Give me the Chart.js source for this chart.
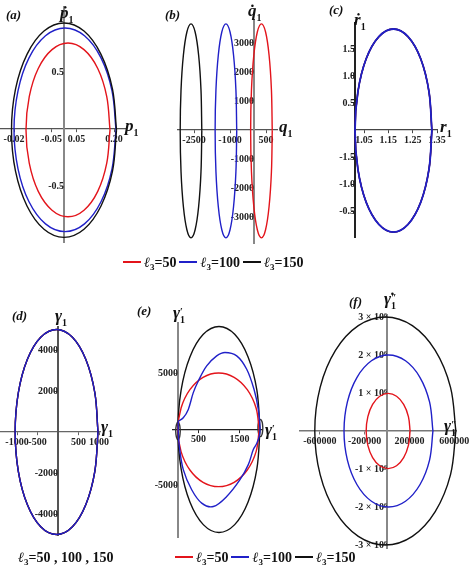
<!DOCTYPE html>
<html>
<head>
<meta charset="utf-8">
<script src="https://cdn.jsdelivr.net/npm/chart.js@4.4.1/dist/chart.umd.min.js"></script>
<style>
body { margin: 0; background: #fff; width: 474px; height: 566px; position: relative; overflow: hidden; font-family: 'Liberation Serif', serif; }
canvas { position: absolute; }
.t { position: absolute; font-weight: bold; color: #111; white-space: nowrap; line-height: 1; }
.pl { font-style: italic; font-size: 13px; }
.ax { font-style: italic; font-size: 17px; }
.ss { display: inline-block; vertical-align: -5px; font-size: 10px; line-height: 0.85; font-style: normal; }
.lg { position: absolute; font-weight: bold; font-size: 14px; white-space: nowrap; line-height: 1; color: #111; }
.lg sub, .t sub { font-size: 9px; vertical-align: -3px; }
.ln { display: inline-block; width: 18px; height: 2px; vertical-align: 4px; margin: 0 3px; }
</style>
</head>
<body>
<canvas id="pa"></canvas>
<canvas id="pb"></canvas>
<canvas id="pc"></canvas>
<canvas id="pd"></canvas>
<canvas id="pe"></canvas>
<canvas id="pf"></canvas>

<div class="t pl" style="left:6px;top:8px">(a)</div>
<div class="t pl" style="left:165px;top:8px">(b)</div>
<div class="t pl" style="left:329px;top:3px">(c)</div>
<div class="t pl" style="left:12px;top:309px">(d)</div>
<div class="t pl" style="left:137px;top:304px">(e)</div>
<div class="t pl" style="left:349px;top:295px">(f)</div>

<div class="t ax" style="left:60px;top:4px">p&#775;<span class="ss">&nbsp;<br>1</span></div>
<div class="t ax" style="left:125px;top:117px">p<span class="ss">&nbsp;<br>1</span></div>
<div class="t ax" style="left:248px;top:2px">q&#775;<span class="ss">&nbsp;<br>1</span></div>
<div class="t ax" style="left:279px;top:118px">q<span class="ss">&nbsp;<br>1</span></div>
<div class="t ax" style="left:354px;top:11px">r&#775;<span class="ss">&nbsp;<br>1</span></div>
<div class="t ax" style="left:440px;top:118px">r<span class="ss">&nbsp;<br>1</span></div>
<div class="t ax" style="left:55px;top:307px">&gamma;<span class="ss">&nbsp;<br>1</span></div>
<div class="t ax" style="left:101px;top:418px">&gamma;<span class="ss">&nbsp;<br>1</span></div>
<div class="t ax" style="left:173px;top:304px">&gamma;<span class="ss">&prime;<br>1</span></div>
<div class="t ax" style="left:265px;top:421px">&gamma;<span class="ss">&prime;<br>1</span></div>
<div class="t ax" style="left:384px;top:290px">&gamma;&#775;<span class="ss">&Prime;<br>1</span></div>
<div class="t ax" style="left:444px;top:417px">&gamma;<span class="ss">&Prime;<br>1</span></div>

<div class="lg" style="left:120px;top:256px"><span class="ln" style="background:#e3141b"></span><i>ℓ</i><sub>3</sub>=50<span class="ln" style="background:#2020c8"></span><i>ℓ</i><sub>3</sub>=100<span class="ln" style="background:#111"></span><i>ℓ</i><sub>3</sub>=150</div>
<div class="lg" style="left:18px;top:551px"><i>ℓ</i><sub>3</sub>=50 , 100 , 150</div>
<div class="lg" style="left:172px;top:551px"><span class="ln" style="background:#e3141b"></span><i>ℓ</i><sub>3</sub>=50<span class="ln" style="background:#2020c8"></span><i>ℓ</i><sub>3</sub>=100<span class="ln" style="background:#111"></span><i>ℓ</i><sub>3</sub>=150</div>

<script>
const PAD = 20;
const RED = '#e3141b', BLUE = '#2020c8', BLACK = '#111';

// (a) p1 / p1-dot
const aTicksX = [-0.2, -0.05, 0.05, 0.2];
const aLabelsX = ['-0.02', '-0.05', '0.05', '0.20'];
const aTicksY = [-0.5, 0.5];
const aLabelsY = ['-0.5', '0.5'];
const aBlackX = [0.21, 0.194, 0.148, 0.080, 0, -0.080, -0.148, -0.194, -0.21, -0.194, -0.148, -0.080, 0, 0.080, 0.148, 0.194, 0.21];
const aBlackY = [-0.01, 0.350, 0.655, 0.859, 0.93, 0.859, 0.655, 0.350, -0.01, -0.370, -0.675, -0.879, -0.95, -0.879, -0.675, -0.370, -0.01];
const aBlueX = [0.208, 0.192, 0.148, 0.082, 0.004, -0.074, -0.140, -0.184, -0.200, -0.184, -0.140, -0.074, 0.004, 0.082, 0.148, 0.192, 0.208];
const aBlueY = [-0.007, 0.335, 0.624, 0.818, 0.886, 0.818, 0.624, 0.335, -0.007, -0.349, -0.638, -0.832, -0.900, -0.832, -0.638, -0.349, -0.007];
const aRedX = [0.184, 0.171, 0.135, 0.080, 0.016, -0.048, -0.103, -0.139, -0.152, -0.139, -0.103, -0.048, 0.016, 0.080, 0.135, 0.171, 0.184];
const aRedY = [-0.008, 0.284, 0.531, 0.696, 0.754, 0.696, 0.531, 0.284, -0.008, -0.300, -0.547, -0.712, -0.770, -0.712, -0.547, -0.300, -0.008];

// (b) q1 / q1-dot
const bTicksX = [-2500, -1000, 500];
const bTicksY = [-3000, -2000, -1000, 1000, 2000, 3000];
const bY = [-30, 1383, 2579, 3380, 3660, 3380, 2579, 1383, -30, -1443, -2639, -3440, -3720, -3440, -2639, -1443, -30];
const bBlackX = [-2175, -2209, -2307, -2453, -2625, -2797, -2943, -3041, -3075, -3041, -2943, -2797, -2625, -2453, -2307, -2209, -2175];
const bBlueX = [-720, -754, -852, -998, -1170, -1342, -1488, -1586, -1620, -1586, -1488, -1342, -1170, -998, -852, -754, -720];
const bRedX = [760, 726, 628, 482, 310, 138, -8, -106, -140, -106, -8, 138, 310, 482, 628, 726, 760];

// (c) r1 / r1-dot (three curves coincide)
const cTicksX = [1.05, 1.15, 1.25, 1.35];
const cLabelsX = ['1.05', '1.15', '1.25', '1.35'];
const cTicksY = [1.5, 1.0, 0.5, -0.5, -1.0, -1.5];
const cLabelsY = ['1.5', '1.0', '0.5', '-1.5', '-1.0', '-0.5'];
const cX = [1.329, 1.317, 1.283, 1.231, 1.171, 1.111, 1.059, 1.025, 1.013, 1.025, 1.059, 1.111, 1.171, 1.231, 1.283, 1.317, 1.329];
const cY = [-0.01, 0.71, 1.319, 1.727, 1.87, 1.727, 1.319, 0.71, -0.01, -0.73, -1.339, -1.747, -1.89, -1.747, -1.339, -0.73, -0.01];

// (d) gamma1 (same for all l3)
const dTicksX = [-1000, -500, 500, 1000];
const dTicksY = [-4000, -2000, 2000, 4000];
const dX = [975, 898, 679, 352, -35, -422, -749, -968, -1045, -968, -749, -422, -35, 352, 679, 898, 975];
const dY = [0, 1915, 3535, 4620, 5000, 4620, 3535, 1915, 0, -1915, -3535, -4620, -5000, -4620, -3535, -1915, 0];

// (e) gamma1'
const eTicksX = [500, 1500];
const eTicksY = [-5000, 5000];
const eRedX = [1980, 1905, 1690, 1369, 990, 611, 290, 75, 0, 75, 290, 611, 990, 1369, 1690, 1905, 1980];
const eRedY = [-30, 1904, 3540, 4636, 5020, 4636, 3540, 1904, -30, -1964, -3600, -4696, -5080, -4696, -3600, -1964, -30];
const eBlackX = [2000, 1924, 1707, 1383, 1000, 617, 293, 76, 0, 76, 293, 617, 1000, 1383, 1707, 1924, 2000];
const eBlackY = [0, 3504, 6469, 8455, 9150, 8455, 6469, 3504, 0, -3504, -6469, -8455, -9150, -8455, -6469, -3504, 0];
const eBlueX = [7, 129, 251, 373, 495, 700, 944, 1146, 1432, 1676, 1854, 1959, 2000, 1983, 1920, 1837, 1715, 1512, 1188, 861, 578, 334, 129, 32, 7, 7];
const eBlueY = [741, 1045, 1786, 3277, 4313, 5652, 6545, 6848, 6545, 5357, 3571, 1786, 179, -598, -1250, -1786, -3125, -4464, -5955, -6848, -6545, -5357, -3571, -1491, -295, 741];
const eLoopLX = [55, 39, 0, -39, -55, -39, 0, 39, 55];
const eLoopLY = [-130, 414, 640, 414, -130, -674, -900, -674, -130];
const eLoopRX = [2070, 2052, 2010, 1968, 1950, 1968, 2010, 2052, 2070];
const eLoopRY = [130, 667, 890, 667, 130, -407, -630, -407, 130];

// (f) gamma1'' (y in millions)
const fTicksX = [-600000, -200000, 200000, 600000];
const fTicksY = [-3, -2, -1, 1, 2, 3];
const fLabelsY = ['-3 \u00d7 10\u2076', '-2 \u00d7 10\u2076', '-1 \u00d7 10\u2076', '1 \u00d7 10\u2076', '2 \u00d7 10\u2076', '3 \u00d7 10\u2076'];
const fRedX = [206000, 191100, 148600, 85100, 10000, -65100, -128600, -171100, -186000, -171100, -128600, -65100, 10000, 85100, 148600, 191100, 206000];
const fRedY = [0, 0.379, 0.700, 0.915, 0.99, 0.915, 0.700, 0.379, 0, -0.379, -0.700, -0.915, -0.99, -0.915, -0.700, -0.379, 0];
const fBlueX = [410000, 379800, 293700, 165100, 13000, -139100, -267700, -353800, -384000, -353800, -267700, -139100, 13000, 165100, 293700, 379800, 410000];
const fBlueY = [0, 0.766, 1.414, 1.848, 2.0, 1.848, 1.414, 0.766, 0, -0.766, -1.414, -1.848, -2.0, -1.848, -1.414, -0.766, 0];
const fBlackX = [615000, 567100, 430400, 226300, -15000, -256300, -460400, -597100, -645000, -597100, -460400, -256300, -15000, 226300, 430400, 567100, 615000];
const fBlackY = [0, 1.149, 2.121, 2.772, 3.0, 2.772, 2.121, 1.149, 0, -1.149, -2.121, -2.772, -3.0, -2.772, -2.121, -1.149, 0];

function pts(xs, ys) {
    return xs.map((x, i) => ({ x: x, y: ys[i] }));
}

function axis(s, pos) {
    return {
        type: 'linear', min: s.min, max: s.max, position: pos,
        afterBuildTicks: a => { a.ticks = s.ticks.map(v => ({ value: v })); },
        ticks: {
            autoSkip: false, maxRotation: 0, padding: 1, color: '#222',
            font: { family: 'Liberation Serif', weight: 'bold', size: 10 },
            callback: (v, i) => s.labels ? s.labels[i] : String(v)
        },
        grid: { drawOnChartArea: false, tickLength: 3, color: s.color },
        border: { color: s.color, width: s.width }
    };
}

// box = plot area on the page: [left, top, right, bottom]
function panel(id, box, sx, sy, sets) {
    const cv = document.getElementById(id);
    const w = box[2] - box[0] + 2 * PAD, h = box[3] - box[1] + 2 * PAD;
    cv.width = w; cv.height = h;
    cv.style.left = (box[0] - PAD) + 'px';
    cv.style.top = (box[1] - PAD) + 'px';
    cv.style.width = w + 'px';
    cv.style.height = h + 'px';
    new Chart(cv, {
        type: 'scatter',
        data: {
            datasets: sets.map(s => ({
                data: pts(s[0], s[1]), borderColor: s[2], borderWidth: s[3] || 1.4,
                showLine: true, pointRadius: 0, tension: 0.35, clip: false
            }))
        },
        options: {
            responsive: false, animation: false,
            layout: { padding: PAD },
            plugins: { legend: { display: false }, tooltip: { enabled: false } },
            scales: { x: axis(sx, { y: sx.at }), y: axis(sy, { x: sy.at }) }
        }
    });
}

panel('pa', [0, 7, 125, 242],
    { min: -0.256, max: 0.244, ticks: aTicksX, labels: aLabelsX, at: 0, color: '#555', width: 1.2 },
    { min: -0.991, max: 1.070, ticks: aTicksY, labels: aLabelsY, at: 0, color: '#888', width: 2 },
    [[aBlackX, aBlackY, BLACK], [aBlueX, aBlueY, BLUE], [aRedX, aRedY, RED]]);

panel('pb', [178, 20, 277, 243],
    { min: -3167, max: 958, ticks: bTicksX, at: 0, color: '#555', width: 1.2 },
    { min: -3897, max: 3793, ticks: bTicksY, at: 0, color: '#888', width: 2 },
    [[bBlackX, bY, BLACK], [bBlueX, bY, BLUE], [bRedX, bY, RED]]);

panel('pc', [355, 23, 437, 237],
    { min: 1.013, max: 1.35, ticks: cTicksX, labels: cLabelsX, at: 0, color: '#444', width: 1.2 },
    { min: -1.981, max: 1.981, ticks: cTicksY, labels: cLabelsY, at: 1.013, color: '#222', width: 2 },
    [[cX, cY, BLUE, 1.8], [cX, cY, BLACK], [cX, cY, RED]]);

panel('pd', [0, 327, 100, 535],
    { min: -1415, max: 1024, ticks: dTicksX, at: 0, color: '#666', width: 1.2 },
    { min: -5024, max: 5122, ticks: dTicksY, at: 0, color: '#555', width: 2 },
    [[dX, dY, BLUE], [dX, dY, BLACK], [dX, dY, RED]]);

panel('pe', [173, 323, 262, 537],
    { min: -122, max: 2049, ticks: eTicksX, at: 0, color: '#222', width: 1.2 },
    { min: -9554, max: 9464, ticks: eTicksY, at: 0, color: '#888', width: 2 },
    [[eBlueX, eBlueY, BLUE], [eRedX, eRedY, RED], [eBlackX, eBlackY, BLACK],
     [eLoopLX, eLoopLY, '#333'], [eLoopRX, eLoopRY, '#333']]);

panel('pf', [300, 315, 456, 548],
    { min: -777000, max: 616000, ticks: fTicksX, at: 0, color: '#777', width: 1.5 },
    { min: -3.079, max: 3.053, ticks: fTicksY, labels: fLabelsY, at: 0, color: '#888', width: 2 },
    [[fBlackX, fBlackY, BLACK], [fBlueX, fBlueY, BLUE], [fRedX, fRedY, RED]]);
</script>
</body>
</html>
